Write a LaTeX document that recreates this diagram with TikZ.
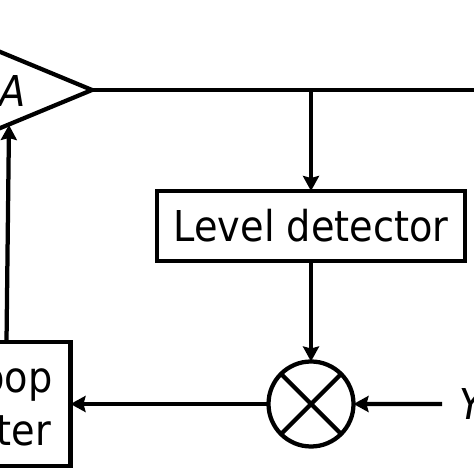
\documentclass[tikz,border=0pt]{standalone}
\usepackage{fontspec}
\setmainfont{DejaVu Sans Condensed}
\usetikzlibrary{shapes.geometric, arrows.meta, positioning, calc}

\begin{document}
\begin{tikzpicture}[
    every node/.style={font=\fontsize{24.2}{30}\selectfont},
    block/.style={draw, rectangle, line width=0.085cm, inner sep=0pt, outer sep=0pt},
    mixer/.style={draw, circle, line width=0.085cm, minimum size=1.7cm, inner sep=0pt, outer sep=0pt},
    amp/.style={draw, isosceles triangle, isosceles triangle stretches, line width=0.085cm, inner sep=0pt, outer sep=0pt, minimum width=2.04cm, minimum height=2.46cm},
    conn/.style={line width=0.085cm},
    msg/.style={line width=0.085cm,-{Stealth[length=0.3cm,width=0.32cm,inset=0.04cm]}}
]
\useasboundingbox (0,0) rectangle (9.48,9.48);
\clip (0,0) rectangle (9.48,9.48);

% Blocks
\node[block, minimum width=6.16cm, minimum height=1.4cm] (level) at (6.22,4.96) {Level detector};
\node[mixer, below=2.01cm of level] (mix) {};
\node[block, minimum width=2.56cm, minimum height=2.48cm, align=center, left=3.96cm of mix] (filter) {Loop\\filter};
\node[amp, anchor=apex] (gain) at (1.84,7.68) {};
\node[inner sep=0pt] (gainlabel) at (0.26,7.66) {\itshape A};
\node[anchor=west, inner sep=0pt, inner xsep=0.34cm] (ref) at (8.84,1.40) {\itshape Y};

% Free ends
\coordinate (tap) at (level.north |- gain.apex);
\coordinate (out) at (9.48,7.68);
\coordinate (gainin) at (0.18,6.98);

% Signal path
\draw[conn] (gain.apex) -- (out);
\draw[msg] (tap) -- (level.north);
\draw[msg] (level.south) -- (mix.north);
\draw[msg] (ref.west) -- (mix.east);
\draw[msg] (mix.west) -- (filter.east);
\draw[msg] (filter.north) -- (gainin);

% Cross
\draw[conn] (mix.north west) -- (mix.south east);
\draw[conn] (mix.north east) -- (mix.south west);
\end{tikzpicture}
\end{document}
